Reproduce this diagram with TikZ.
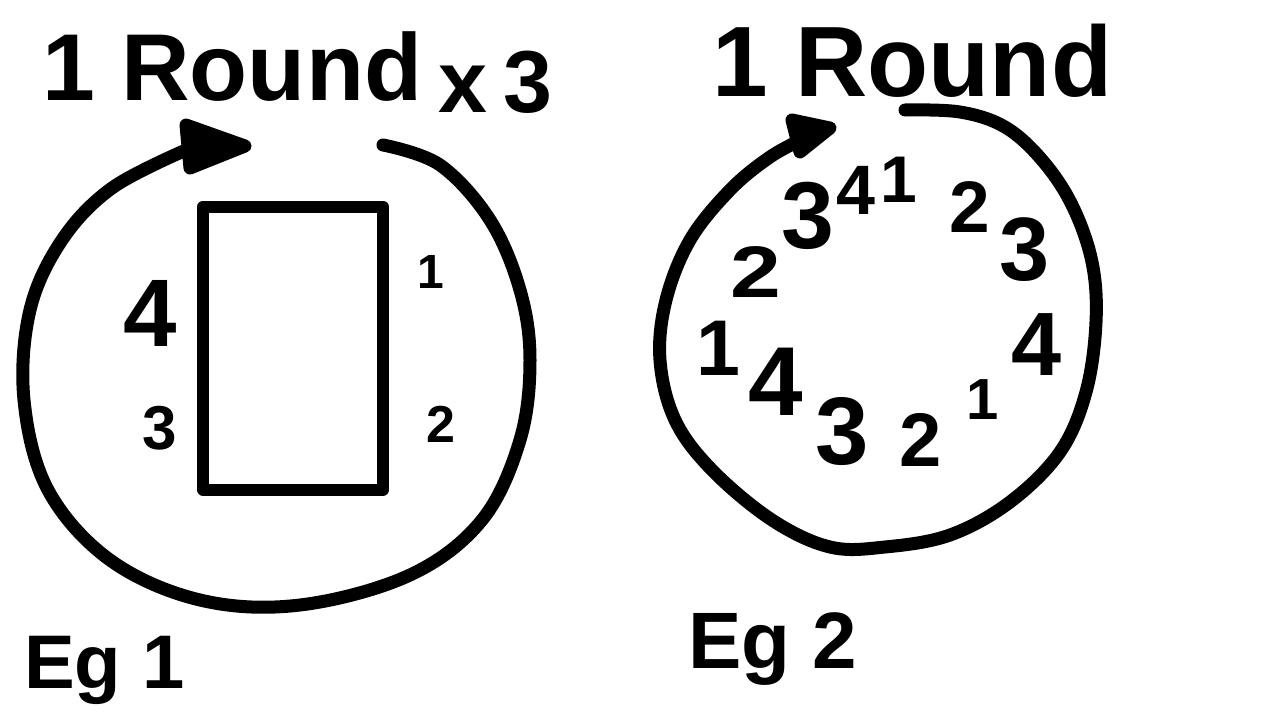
\documentclass[tikz,border=0pt]{standalone}
\usepackage{fontspec}
\setmainfont{Liberation Sans}
\usetikzlibrary{arrows.meta, positioning}

\begin{document}
\begin{tikzpicture}[x=1pt, y=-1pt]
    \tikzstyle{pen} = [draw, line width=13pt, line cap=round, line join=round]
    \tikzstyle{label} = [inner sep=0pt, font=\fontsize{#1}{#1}\selectfont\bfseries]
    \tikzstyle{digit} = [inner sep=0pt, anchor=center, font=\fontsize{#1}{#1}\selectfont\bfseries]

    \useasboundingbox (0,0) rectangle (1280,720);

    % titles
    \node[label=95, anchor=base west] (titleA) at (42,100) {1 Round};
    \node[label=88, anchor=base west] (timesA) at (438,112) {x\hspace{16pt}3};
    \node[label=100, anchor=base west] (titleB) at (712,96) {1 Round};

    % example 1: box with four corners
    \node[pen, line width=12pt, minimum width=180pt, minimum height=283pt, inner sep=0pt] (box) at (293,348) {};
    \node[digit=48] (a1) at (431,272) {1};
    \node[digit=52] (a2) at (441,424) {2};
    \node[digit=62] (a3) at (160,428) {3};
    \node[digit=96] (a4) at (150,313) {4};

    % loop round example 1
    \path[pen] plot[smooth, tension=0.6] coordinates {(383,145) (440,165) (490,220) (520,290) (530,360)
        (520,440) (482,520) (410,575) (300,605) (200,600) (110,560) (48,490) (24,400) (30,310)
        (62,240) (112,188) (186,150)};
    \path[pen, fill] (186,125) -- (245,146) -- (190,168) -- cycle;

    % example 2: twelve counts round the loop
    \node[digit=95] (b1) at (808,216) {3};
    \node[digit=70] (b2) at (856,190) {4};
    \node[digit=66] (b3) at (899,180) {1};
    \node[digit=73] (b4) at (970,207) {2};
    \node[digit=90] (b5) at (1025,250) {3};
    \node[digit=90] (b6) at (1037,345) {4};
    \node[digit=58] (b7) at (983,400) {1};
    \node[digit=76] (b8) at (921,440) {2};
    \node[digit=96] (b9) at (842,432) {3};
    \node[digit=98] (b10) at (776,382) {4};
    \node[digit=79] (b11) at (718,348) {1};
    \node[digit=73, xscale=1.25] (b12) at (756,272) {2};

    % loop round example 2
    \path[pen] plot[smooth, tension=0.6] coordinates {(905,110) (960,112) (1005,127) (1042,160) (1072,205)
        (1092,262) (1096,322) (1086,392) (1060,452) (1010,502) (950,535) (885,547) (830,547)
        (772,520) (712,470) (675,420) (660,360) (666,300) (690,240) (730,190) (770,157) (805,138)};
    \path[pen, fill] (792,120) -- (830,128) -- (800,152) -- cycle;

    % captions
    \node[label=76, anchor=base west] (capA) at (24,688) {Eg 1};
    \node[label=80, anchor=base west] (capB) at (688,668) {Eg 2};
\end{tikzpicture}
\end{document}
